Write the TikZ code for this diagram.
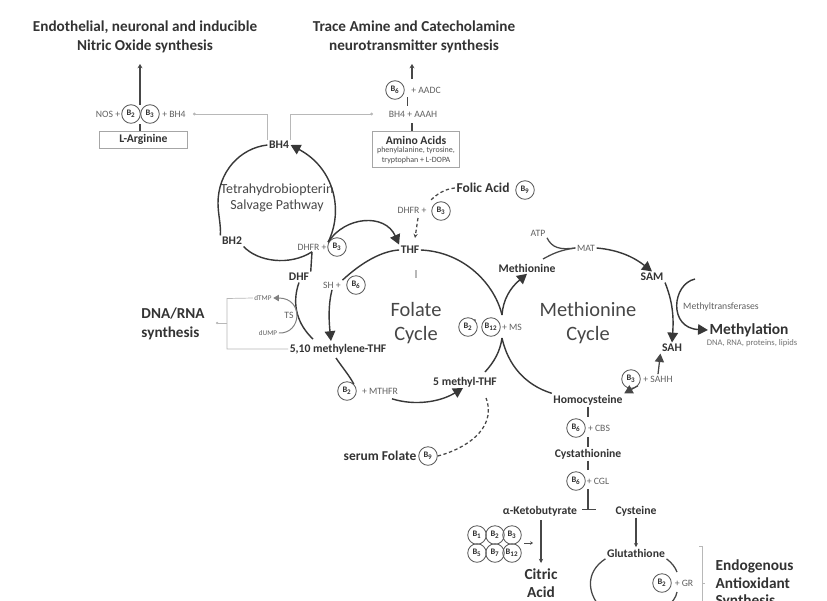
\documentclass[tikz,border=0pt]{standalone}
\usepackage{fontspec}
\setmainfont{Carlito}
\usetikzlibrary{arrows,arrows.meta}
\tikzset{
	every node/.style={inner sep=1pt,text=black!80},
	headlbl/.style={font=\fontsize{10.8}{13.5}\selectfont\bfseries,align=center},
	biglbl/.style={font=\fontsize{10.9}{12.6}\selectfont\bfseries,align=center},
	metlbl/.style={font=\fontsize{8.3}{9}\selectfont\bfseries},
	srclbl/.style={font=\fontsize{9.6}{10}\selectfont\bfseries},
	enzlbl/.style={font=\fontsize{6.9}{7}\selectfont,text=black!62},
	finelbl/.style={font=\fontsize{5.7}{6.8}\selectfont,text=black!70,align=center},
	cyclbl/.style={font=\fontsize{14.5}{17}\selectfont,align=center,text=black!72},
	vit/.style={circle,draw=black!65,line width=0.6pt,minimum size=13.2pt,inner sep=0pt,font=\fontsize{6}{6}\selectfont\bfseries},
	boxed/.style={draw=black!35,line width=0.6pt,inner sep=0pt},
	flowline/.style={line width=1pt,draw=black!78},
	bigarrow/.style={flowline,-{Triangle[length=7pt,width=7.5pt]}},
	thinline/.style={line width=0.9pt,draw=black!72},
	dashline/.style={thinline,dash pattern=on 2.4pt off 1.8pt},
	faint/.style={line width=0.5pt,draw=black!28},
}
\begin{document}
\begin{tikzpicture}[x=0.025cm,y=-0.025cm]
	\clip (0,0) rectangle (827,600);
	\fill[white] (0,0) rectangle (827,600);

	%outer labels
	\node[headlbl] (nitric) at (145,36.5) {Endothelial, neuronal and inducible\\Nitric Oxide synthesis};
	\node[headlbl] (trace) at (414,36.5) {Trace Amine and Catecholamine\\neurotransmitter synthesis};
	\node[headlbl,align=left] (dna) at (173,324) {DNA/RNA\\synthesis};
	\node[biglbl] (citric) at (541,583) {Citric\\Acid};
	\node[biglbl,align=left,anchor=west] (anti) at (714,584) {Endogenous\\Antioxidant\\Synthesis};

	%boxes
	\node[boxed,minimum width=62pt,minimum height=12pt] (arg) at (143.5,139.5) {};
	\node[metlbl] at (arg) {L-Arginine};
	\node[boxed,minimum width=62pt,minimum height=25.5pt] (amino) at (416,149) {};
	\node[metlbl] (aminot) at (416,140) {Amino Acids};
	\node[finelbl] at (416,155.5) {phenylalanine, tyrosine,\\tryptophan + L-DOPA};

	%metabolites
	\node[metlbl] (bhfour) at (279,145) {BH4};
	\node[metlbl] (bhtwo) at (232,241) {BH2};
	\node[metlbl] (dhf) at (299,277) {DHF};
	\node[metlbl] (thf) at (410,250) {THF};
	\node[metlbl] (mten) at (338,349) {5,10 methylene-THF};
	\node[metlbl] (mfive) at (465,382) {5 methyl-THF};
	\node[metlbl] (met) at (527,268) {Methionine};
	\node[metlbl] (sam) at (652,277) {SAM};
	\node[metlbl] (sah) at (672,348) {SAH};
	\node[metlbl] (hcy) at (588,400) {Homocysteine};
	\node[metlbl] (cysta) at (588,454) {Cystathionine};
	\node[metlbl] (keto) at (540,511) {α-Ketobutyrate};
	\node[metlbl] (cys) at (636,511) {Cysteine};
	\node[metlbl] (glut) at (636,553) {Glutathione};
	\node[srclbl] (folic) at (483,188) {Folic Acid};
	\node[srclbl] (serum) at (380,456) {serum Folate};
	\node[font=\fontsize{11}{12}\selectfont\bfseries] (methy) at (749,330) {Methylation};
	\node[enzlbl,font=\fontsize{6.1}{7}\selectfont,text=black!55] at (752,343) {DNA, RNA, proteins, lipids};

	%cycle names
	\node[cyclbl,font=\fontsize{9.9}{11.4}\selectfont] (salv) at (277,198) {Tetrahydrobiopterin\\Salvage Pathway};
	\node[cyclbl] (folate) at (416,323) {Folate\\Cycle};
	\node[cyclbl] (metcy) at (588,323) {Methionine\\Cycle};

	%enzymes
	\node[enzlbl] (nos) at (108,114) {NOS +};
	\node[enzlbl] (nosbh) at (174,114) {+ BH4};
	\node[enzlbl] (aadc) at (426,90) {+ AADC};
	\node[enzlbl] (aaah) at (413,114) {BH4 + AAAH};
	\node[enzlbl] (dhfr) at (312,247) {DHFR +};
	\node[enzlbl] (dhfrf) at (412,210) {DHFR +};
	\node[enzlbl] (sh) at (332,285) {SH +};
	\node[enzlbl] (mthfr) at (380,391) {+ MTHFR};
	\node[enzlbl] (ms) at (512,327) {+ MS};
	\node[enzlbl] (mat) at (586,248) {MAT};
	\node[enzlbl] (atp) at (538,233) {ATP};
	\node[enzlbl] (trans) at (721,307) {Methyltransferases};
	\node[enzlbl] (sahh) at (658,379) {+ SAHH};
	\node[enzlbl] (cbs) at (599,428) {+ CBS};
	\node[enzlbl] (cgl) at (598,481) {+ CGL};
	\node[enzlbl] (gr) at (684,583) {+ GR};
	\node[enzlbl,font=\fontsize{5.1}{6}\selectfont] (dtmp) at (263,298) {dTMP};
	\node[enzlbl,font=\fontsize{5.1}{6}\selectfont] (dump) at (268,333) {dUMP};
	\node[enzlbl] (ts) at (289,315) {TS};

	%vitamins
	\node[vit] (nosa) at (131,114) {B\textsubscript{2}};
	\node[vit] (nosb) at (150,114) {B\textsubscript{3}};
	\node[vit] (aadcb) at (395,90) {B\textsubscript{6}};
	\node[vit] (dhfrb) at (337,247) {B\textsubscript{3}};
	\node[vit] (dhfrfb) at (441,211) {B\textsubscript{3}};
	\node[vit] (folicb) at (525,190) {B\textsubscript{9}};
	\node[vit] (shb) at (356,285) {B\textsubscript{6}};
	\node[vit] (mthfrb) at (347,391) {B\textsubscript{2}};
	\node[vit] (msa) at (468,327) {B\textsubscript{2}};
	\node[vit] (msb) at (491,327) {B\textsubscript{12}};
	\node[vit] (serumb) at (428,456) {B\textsubscript{9}};
	\node[vit] (sahhb) at (631,379) {B\textsubscript{3}};
	\node[vit] (cbsb) at (576,428) {B\textsubscript{6}};
	\node[vit] (cglb) at (576,481) {B\textsubscript{6}};
	\node[vit] (tca) at (477,535) {B\textsubscript{1}};
	\node[vit] (tcb) at (495,535) {B\textsubscript{2}};
	\node[vit] (tcc) at (512,535) {B\textsubscript{3}};
	\node[vit] (tcd) at (477,553) {B\textsubscript{5}};
	\node[vit] (tce) at (495,553) {B\textsubscript{7}};
	\node[vit] (tcf) at (512,553) {B\textsubscript{12}};
	\node[vit] (grb) at (662,583) {B\textsubscript{2}};

	%free ends
	\coordinate (nosdot) at (193,114);
	\coordinate (aaadot) at (373,114);
	\coordinate (nosup) at (140,64);
	\coordinate (nosdn) at (140,124);
	\coordinate (nostop) at (140,105);
	\coordinate (aadcup) at (412,64);
	\coordinate (aadcdn) at (412,79);
	\coordinate (msup) at (502,315);
	\coordinate (mslow) at (502,338);
	\coordinate (metb) at (543,259);
	\coordinate (mtop) at (313,339);
	\coordinate (mtena) at (336,358);
	\coordinate (mtenb) at (331,341);
	\coordinate (mfend) at (485,372);
	\coordinate (mfin) at (463,388);
	\coordinate (transa) at (695,279);
	\coordinate (bra) at (699,546);
	\coordinate (brb) at (702,546);
	\coordinate (brc) at (702,610);
	\coordinate (cutl) at (605,612);
	\coordinate (grup) at (677,572);
	\coordinate (grlo) at (677,592);
	\coordinate (grout) at (668,606);
	\coordinate (citup) at (541,520);
	\coordinate (citdn) at (541,563);
	\coordinate (tbar) at (588,509);
	\coordinate (folicd) at (418,218);
	\coordinate (thfin) at (415,238);
	\coordinate (serumd) at (486,398);
	\coordinate (dnastub) at (216,323);
	\coordinate (tcstart) at (524,543);
	\coordinate (tcend) at (533,543);

	%upper pathways
	\draw[thinline,-{Stealth[length=3pt,width=3.5pt]}] (nostop) -- (nosup);
	\draw[thinline] (nosdn) -- (arg.north -| nosdn);
	\draw[thinline,-{Stealth[length=3pt,width=3.5pt]}] (aadcdn) -- (aadcup);
	\draw[thinline] (aadcb.east |- aadcdn) ++(2.5,18) -- ++(0,9);
	\draw[thinline] (amino.north -| aadcup) -- ++(0,-8);
	\draw[faint,-{Circle[length=2pt]}] (bhfour.north west) |- (nosdot);
	\draw[faint,-{Circle[length=2pt]}] (bhfour.north east) |- (aaadot);

	%salvage pathway
	\draw[flowline] (bhfour.west) .. controls (240,148) and (218,172) .. (218,203) .. controls (218,214) and (221,224) .. (bhtwo.north west);
	\draw[flowline] (bhtwo.south east) .. controls (258,262) and (290,266) .. (dhfr.south);
	\draw[bigarrow] (dhfr.north east) .. controls (344,210) and (334,168) .. (bhfour.east);
	\draw[bigarrow] (dhfr.north east) .. controls (345,216) and (385,213) .. (thf.north west);
	\draw[flowline] (dhfr.south) -- (dhf.north east);

	%folate cycle
	\draw[flowline] (thf.west) .. controls (382,251) and (362,262) .. (sh.north east);
	\draw[bigarrow] (sh.south) .. controls (328,305) and (329,322) .. (mtenb);
	\draw[flowline] (dhf.south) .. controls (291,305) and (298,325) .. (mtop);
	\draw[flowline] (mtena) .. controls (342,367) and (349,375) .. (mthfrb.north east);
	\draw[bigarrow] (mthfr.south) ++(12,3) .. controls (415,406) and (440,402) .. (mfin);
	\draw[flowline] (thf.east) .. controls (465,252) and (495,285) .. (msup);
	\draw[flowline] (mslow) .. controls (500,352) and (494,362) .. (mfend);
	\draw[faint,line width=0.8pt] (416,270) -- (416,278);
	\fill[black!65] (msa.north east) circle (0.8pt);

	%dTMP
	\draw[line width=0.7pt,draw=black!50,-{Triangle[length=4pt,width=4.5pt]}] (dump.east) .. controls (302,334) and (304,298) .. (dtmp.east);
	\draw[faint] (dtmp.west) -- (227,298.5) -- (227,349) -- (mten.west);
	\draw[faint,-{Circle[length=1.6pt]}] (227,323) -- (dnastub);

	%folate supply
	\draw[dashline] (folic.west) .. controls (444,189) and (436,195) .. (431,200);
	\draw[dashline,-{Stealth[length=3pt,width=3pt]}] (folicd) -- (thfin);
	\draw[dashline] (serumb.east) .. controls (462,450) and (498,430) .. (serumd);

	%methionine cycle
	\draw[bigarrow] (msup) .. controls (503,300) and (510,288) .. (met.south);
	\draw[flowline] (mslow) .. controls (508,365) and (525,385) .. (hcy.north west);
	\draw[thinline] (atp.south east) .. controls (552,248) and (560,250) .. (mat.west);
	\draw[thinline] (metb) .. controls (552,254) and (560,250) .. (mat.west);
	\draw[bigarrow] (mat.east) .. controls (620,250) and (635,258) .. (sam.north);
	\draw[bigarrow] (sam.south east) .. controls (672,300) and (674,315) .. (sah.north);
	\draw[bigarrow] (transa) .. controls (672,284) and (668,328) .. (methy.west);
	\draw[thinline,-{Triangle[length=6pt,width=6.5pt]}] (sahh.north) -- (sah.south west);
	\draw[thinline,-{Triangle[length=6pt,width=6.5pt]}] (sahhb.south east) -- (hcy.north east);

	%transsulfuration
	\draw[thinline] (hcy.south) -- (588,417);
	\draw[thinline] (588,437) -- (cysta.north);
	\draw[thinline] (cysta.south) -- (588,470);
	\draw[thinline] (588,489) -- (tbar);
	\draw[thinline] (582,509.5) -- (596,509.5);
	\draw[thinline,-{Stealth[length=3pt,width=3pt]}] (citup) -- (citdn);
	\draw[thinline,-{Stealth[length=3pt,width=3pt]}] (cys.south) -- (glut.north);
	\draw[line width=0.7pt,draw=black!70,-{Stealth[length=2pt,width=2.5pt]}] (tcstart) -- (tcend);

	%glutathione
	\draw[thinline] (glut.south west) .. controls (585,572) and (586,595) .. (cutl);
	\draw[thinline] (glut.south east) .. controls (672,563) and (675,567) .. (grup);
	\draw[thinline] (grlo) .. controls (676,598) and (672,602) .. (grout);
	\draw[faint] (bra) -- (brb) -- (brc);
	\draw[faint] (702,583) -- (705,583);
\end{tikzpicture}
\end{document}
